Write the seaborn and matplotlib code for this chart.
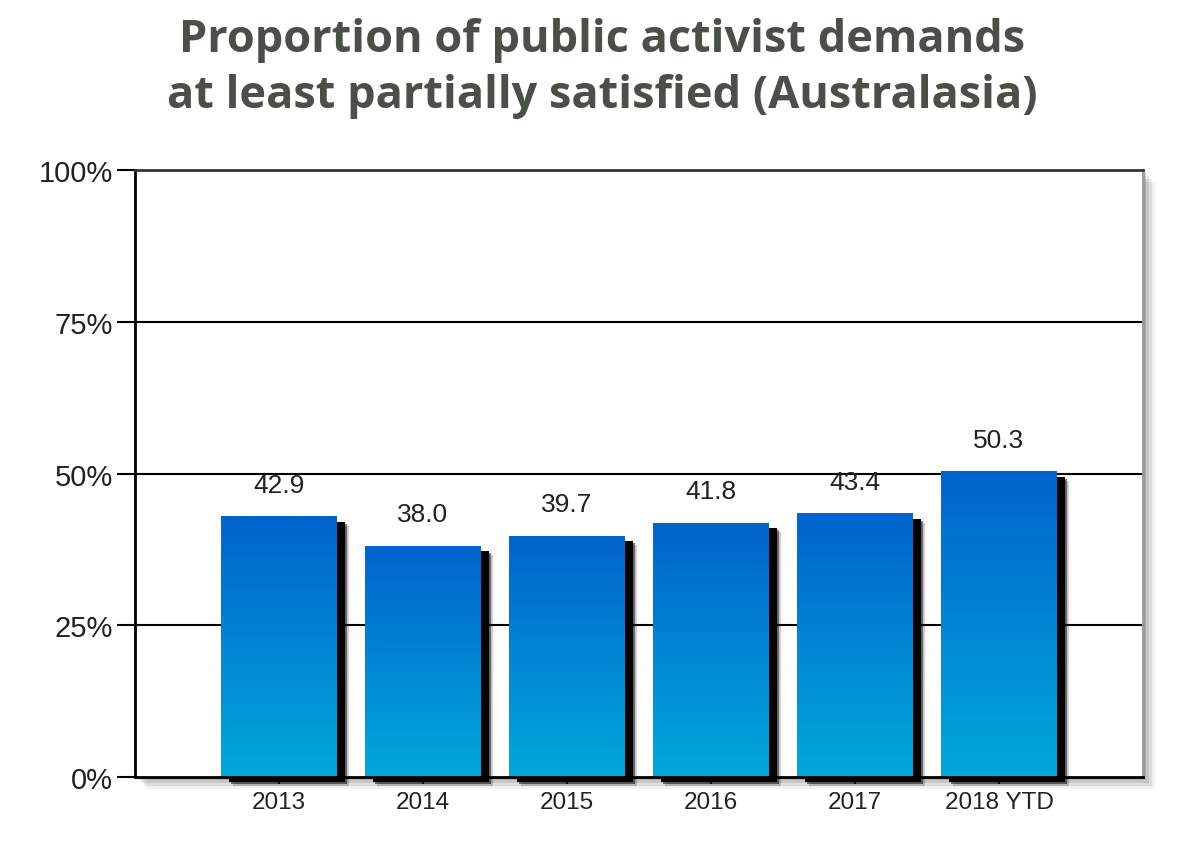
import numpy as np
import pandas as pd
import matplotlib
matplotlib.use("Agg")
import matplotlib.pyplot as plt
import seaborn as sb
from matplotlib.patches import Rectangle
from matplotlib.transforms import ScaledTranslation
from matplotlib.colors import LinearSegmentedColormap

# chart data
years = ["2013", "2014", "2015", "2016", "2017", "2018 YTD"]
share = [42.9, 38.0, 39.7, 41.8, 43.4, 50.3]
y_ticks = [0, 25, 50, 75, 100]
y_tick_labels = ["0%", "25%", "50%", "75%", "100%"]

title_lines = ["Proportion of public activist demands",
               "at least partially satisfied (Australasia)"]


def main():
    data = pd.DataFrame({"year": years, "share": share})

    sb.set_style("white")
    plt.rcParams["font.family"] = ["Liberation Sans", "DejaVu Sans"]

    fig = plt.figure(figsize=(12, 8.53), dpi=100)
    ax = fig.add_axes([0.1125, 0.0879, 0.84, 0.7116])

    # drop shadow of the plot area (right + bottom)
    for i, a in enumerate([0.12, 0.1, 0.08, 0.06]):
        off = (i + 1) * 3 / 100
        sh = Rectangle((0, 0), 1, 1, transform=ax.transAxes + ScaledTranslation(off, -off, fig.dpi_scale_trans),
                       facecolor="black", alpha=a, edgecolor="none", zorder=-5, clip_on=False)
        fig.patches.append(sh)
        sh.set_figure(fig)
    bg = Rectangle((0, 0), 1, 1, transform=ax.transAxes, facecolor="white", edgecolor="none",
                   zorder=-4, clip_on=False)
    fig.patches.append(bg)
    bg.set_figure(fig)
    ax.patch.set_alpha(0)

    sb.barplot(data=data, x="year", y="share", color="#0070cc", width=0.8, ax=ax, zorder=3)

    cmap = LinearSegmentedColormap.from_list("bluegrad", ["#00a8dc", "#0064cc"])
    grad = np.linspace(0, 1, 256).reshape(-1, 1)
    for p in list(ax.patches):
        x, w, h = p.get_x(), p.get_width(), p.get_height()
        # blurred black shadow
        for dx, dy, a in [(8, -5, 1.0), (10, -7, 0.5), (12, -9, 0.2)]:
            ax.add_patch(Rectangle((x, 0), w, h, facecolor="black", edgecolor="none", alpha=a, zorder=2,
                                   clip_on=False,
                                   transform=ax.transData + ScaledTranslation(dx / 100, dy / 100, fig.dpi_scale_trans)))
        ax.imshow(grad, cmap=cmap, extent=[x, x + w, 0, h], origin="lower", aspect="auto", zorder=3.5)
        p.set_visible(False)
        ax.text(x + w / 2, h + 3.3, f"{h:.1f}", ha="center", va="bottom", fontsize=19, color="#222222")

    ax.set_xlim(-1, 6)
    ax.set_ylim(0, 100)
    ax.set_yticks(y_ticks)
    ax.set_yticklabels(y_tick_labels, fontsize=21, color="#222222")
    ax.tick_params(axis="y", left=True, length=13, width=1.5, color="black", pad=3)
    ax.tick_params(axis="x", bottom=True, length=5, width=1.5, color="black", labelsize=17.5,
                   labelcolor="#222222", pad=5)
    ax.set_xlabel("")
    ax.set_ylabel("")

    for yv in y_ticks[1:-1]:
        ax.axhline(yv, color="black", linewidth=1.5, zorder=1)

    for side in ["left", "bottom", "top"]:
        ax.spines[side].set_visible(True)
        ax.spines[side].set_color("black")
        ax.spines[side].set_linewidth(2)
        ax.spines[side].set_zorder(5)
    ax.spines["top"].set_color("#333333")
    ax.spines["right"].set_color("#999999")
    ax.spines["right"].set_linewidth(2)

    for line, yy in zip(title_lines, [0.939, 0.873]):
        fig.text(0.502, yy, line, ha="center", va="baseline", fontsize=32.5, fontweight="bold",
                 color="#4a5048", family=["Open Sans", "DejaVu Sans"])

    fig.savefig("out.png", dpi=100)


if __name__ == "__main__":
    main()
